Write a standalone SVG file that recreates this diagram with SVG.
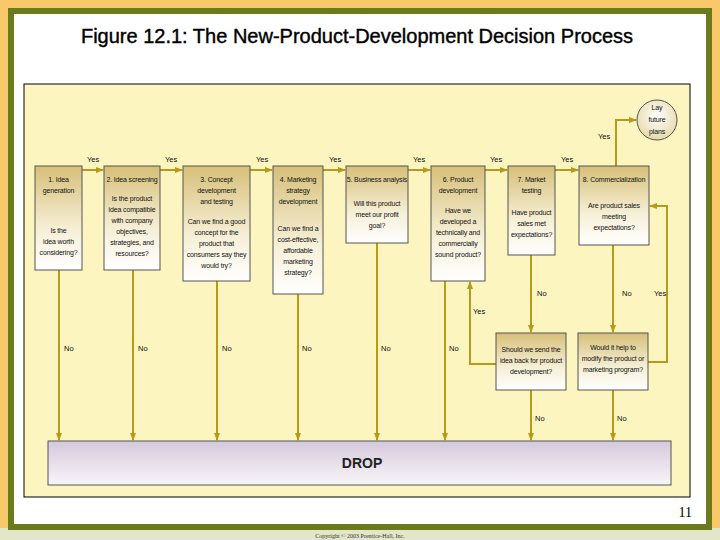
<svg xmlns="http://www.w3.org/2000/svg" width="720" height="540" viewBox="0 0 720 540">
<defs>
<linearGradient id="bx" x1="0" y1="0" x2="0" y2="1"><stop offset="0" stop-color="#d6bf78"/><stop offset="0.6" stop-color="#f6efd6"/><stop offset="1" stop-color="#ffffff"/></linearGradient>
<linearGradient id="dp" x1="0" y1="0" x2="0" y2="1"><stop offset="0" stop-color="#d5c8dc"/><stop offset="1" stop-color="#f8f6f8"/></linearGradient>
<radialGradient id="cg" cx="0.5" cy="0.4" r="0.6"><stop offset="0" stop-color="#ffffff"/><stop offset="1" stop-color="#e6d9a8"/></radialGradient>
<marker id="ar" markerWidth="8" markerHeight="8" refX="7" refY="4" orient="auto" markerUnits="userSpaceOnUse"><path d="M0,1 L8,4 L0,7 Z" fill="#b89a1a"/></marker>
<style>
.b{stroke:#555;stroke-width:1;fill:url(#bx)}
.t{font-family:"Liberation Sans",Arial,sans-serif;font-size:7px;letter-spacing:-0.15px;fill:#111;text-anchor:middle}
.l{font-family:"Liberation Sans",Arial,sans-serif;font-size:7.5px;fill:#111}
.c{stroke:#b89a1a;stroke-width:2;fill:none}
</style>
</defs>
<rect width="720" height="540" fill="#f9c86a"/>
<rect x="0" y="528" width="720" height="12" fill="#e3e6c8"/>
<rect x="11" y="11" width="698" height="516" fill="#ffffff" stroke="#6b7a1a" stroke-width="6"/>
<text x="357" y="43" font-family="Liberation Sans,Arial,sans-serif" font-size="20" text-anchor="middle" fill="#000" stroke="#000" stroke-width="0.4">Figure 12.1: The New-Product-Development Decision Process</text>
<rect x="24" y="84" width="666" height="413" fill="#fcf5c0" stroke="#000" stroke-width="1"/>
<g id="connectors">
<path class="c" marker-end="url(#ar)" d="M82,170 H103"/>
<path class="c" marker-end="url(#ar)" d="M160,170 H182"/>
<path class="c" marker-end="url(#ar)" d="M250,170 H272"/>
<path class="c" marker-end="url(#ar)" d="M323,170 H345"/>
<path class="c" marker-end="url(#ar)" d="M408,170 H430"/>
<path class="c" marker-end="url(#ar)" d="M485,170 H507"/>
<path class="c" marker-end="url(#ar)" d="M555,170 H578"/>
<path class="c" marker-end="url(#ar)" d="M616,166 V120 H636"/>
<path class="c" marker-end="url(#ar)" d="M59,270 V440"/>
<path class="c" marker-end="url(#ar)" d="M133,270 V440"/>
<path class="c" marker-end="url(#ar)" d="M217,281 V440"/>
<path class="c" marker-end="url(#ar)" d="M298,294 V440"/>
<path class="c" marker-end="url(#ar)" d="M377,243 V440"/>
<path class="c" marker-end="url(#ar)" d="M445,281 V440"/>
<path class="c" marker-end="url(#ar)" d="M496,364 H470 V282"/>
<path class="c" marker-end="url(#ar)" d="M531,255 V332"/>
<path class="c" marker-end="url(#ar)" d="M613,245 V332"/>
<path class="c" marker-end="url(#ar)" d="M648,362 H667 V206 H650"/>
<path class="c" marker-end="url(#ar)" d="M531,390 V440"/>
<path class="c" marker-end="url(#ar)" d="M613,390 V440"/>
</g>
<g id="labels">
<text class="l" x="87" y="162">Yes</text>
<text class="l" x="165" y="162">Yes</text>
<text class="l" x="256" y="162">Yes</text>
<text class="l" x="329" y="162">Yes</text>
<text class="l" x="413" y="162">Yes</text>
<text class="l" x="490" y="162">Yes</text>
<text class="l" x="561" y="162">Yes</text>
<text class="l" x="598" y="139">Yes</text>
<text class="l" x="64" y="351">No</text>
<text class="l" x="138" y="351">No</text>
<text class="l" x="222" y="351">No</text>
<text class="l" x="302" y="351">No</text>
<text class="l" x="381" y="351">No</text>
<text class="l" x="449" y="351">No</text>
<text class="l" x="473" y="314">Yes</text>
<text class="l" x="537" y="296">No</text>
<text class="l" x="622" y="296">No</text>
<text class="l" x="654" y="296">Yes</text>
<text class="l" x="535" y="421">No</text>
<text class="l" x="617" y="421">No</text>
</g>
<g id="n1"><rect class="b" x="35" y="166" width="47" height="104"/>
<text class="t" x="58.5" y="182">1. Idea</text><text class="t" x="58.5" y="193">generation</text>
<text class="t" x="58.5" y="233">Is the</text><text class="t" x="58.5" y="244">idea worth</text><text class="t" x="58.5" y="255">considering?</text></g>
<g id="n2"><rect class="b" x="104" y="166" width="56" height="104"/>
<text class="t" x="132" y="182">2. Idea screening</text>
<text class="t" x="132" y="201">Is the product</text><text class="t" x="132" y="212">idea compatible</text><text class="t" x="132" y="223">with company</text><text class="t" x="132" y="234">objectives,</text><text class="t" x="132" y="245">strategies, and</text><text class="t" x="132" y="256">resources?</text></g>
<g id="n3"><rect class="b" x="183" y="166" width="67" height="115"/>
<text class="t" x="216.5" y="182">3. Concept</text><text class="t" x="216.5" y="193">development</text><text class="t" x="216.5" y="204">and testing</text>
<text class="t" x="216.5" y="224">Can we find a good</text><text class="t" x="216.5" y="235">concept for the</text><text class="t" x="216.5" y="246">product that</text><text class="t" x="216.5" y="257">consumers say they</text><text class="t" x="216.5" y="268">would try?</text></g>
<g id="n4"><rect class="b" x="273" y="166" width="50" height="128"/>
<text class="t" x="298" y="182">4. Marketing</text><text class="t" x="298" y="193">strategy</text><text class="t" x="298" y="204">development</text>
<text class="t" x="298" y="231">Can we find a</text><text class="t" x="298" y="242">cost-effective,</text><text class="t" x="298" y="253">affordable</text><text class="t" x="298" y="264">marketing</text><text class="t" x="298" y="275">strategy?</text></g>
<g id="n5"><rect class="b" x="346" y="166" width="62" height="77"/>
<text class="t" x="377" y="182">5. Business analysis</text>
<text class="t" x="377" y="206">Will this product</text><text class="t" x="377" y="217">meet our profit</text><text class="t" x="377" y="228">goal?</text></g>
<g id="n6"><rect class="b" x="431" y="166" width="54" height="115"/>
<text class="t" x="458" y="182">6. Product</text><text class="t" x="458" y="193">development</text>
<text class="t" x="458" y="213">Have we</text><text class="t" x="458" y="224">developed a</text><text class="t" x="458" y="235">technically and</text><text class="t" x="458" y="246">commercially</text><text class="t" x="458" y="257">sound product?</text></g>
<g id="n7"><rect class="b" x="508" y="166" width="47" height="89"/>
<text class="t" x="531.5" y="182">7. Market</text><text class="t" x="531.5" y="193">testing</text>
<text class="t" x="531.5" y="215">Have product</text><text class="t" x="531.5" y="226">sales met</text><text class="t" x="531.5" y="237">expectations?</text></g>
<g id="n8"><rect class="b" x="579" y="166" width="70" height="79"/>
<text class="t" x="614" y="182">8. Commercialization</text>
<text class="t" x="614" y="208">Are product sales</text><text class="t" x="614" y="219">meeting</text><text class="t" x="614" y="230">expectations?</text></g>
<g id="n9"><circle cx="657" cy="120" r="20" fill="url(#cg)" stroke="#555" stroke-width="1"/>
<text class="t" x="657" y="110">Lay</text><text class="t" x="657" y="122">future</text><text class="t" x="657" y="134">plans</text></g>
<g id="n10"><rect class="b" x="496" y="333" width="70" height="57"/>
<text class="t" x="531" y="352">Should we send the</text><text class="t" x="531" y="363">idea back for product</text><text class="t" x="531" y="374">development?</text></g>
<g id="n11"><rect class="b" x="578" y="333" width="70" height="57"/>
<text class="t" x="613" y="350">Would it help to</text><text class="t" x="613" y="361">modify the product or</text><text class="t" x="613" y="372">marketing program?</text></g>
<g id="drop"><rect x="48" y="441" width="623" height="44" fill="url(#dp)" stroke="#555" stroke-width="1"/>
<text x="362" y="468" font-family="Liberation Sans,Arial,sans-serif" font-weight="bold" font-size="14" text-anchor="middle" fill="#222">DROP</text></g>
<text x="692" y="517" font-family="Liberation Serif,serif" font-size="14" text-anchor="end" fill="#000">11</text>
<text x="360" y="538" font-family="Liberation Serif,serif" font-size="6" text-anchor="middle" fill="#333">Copyright © 2003 Prentice-Hall, Inc.</text>
</svg>
